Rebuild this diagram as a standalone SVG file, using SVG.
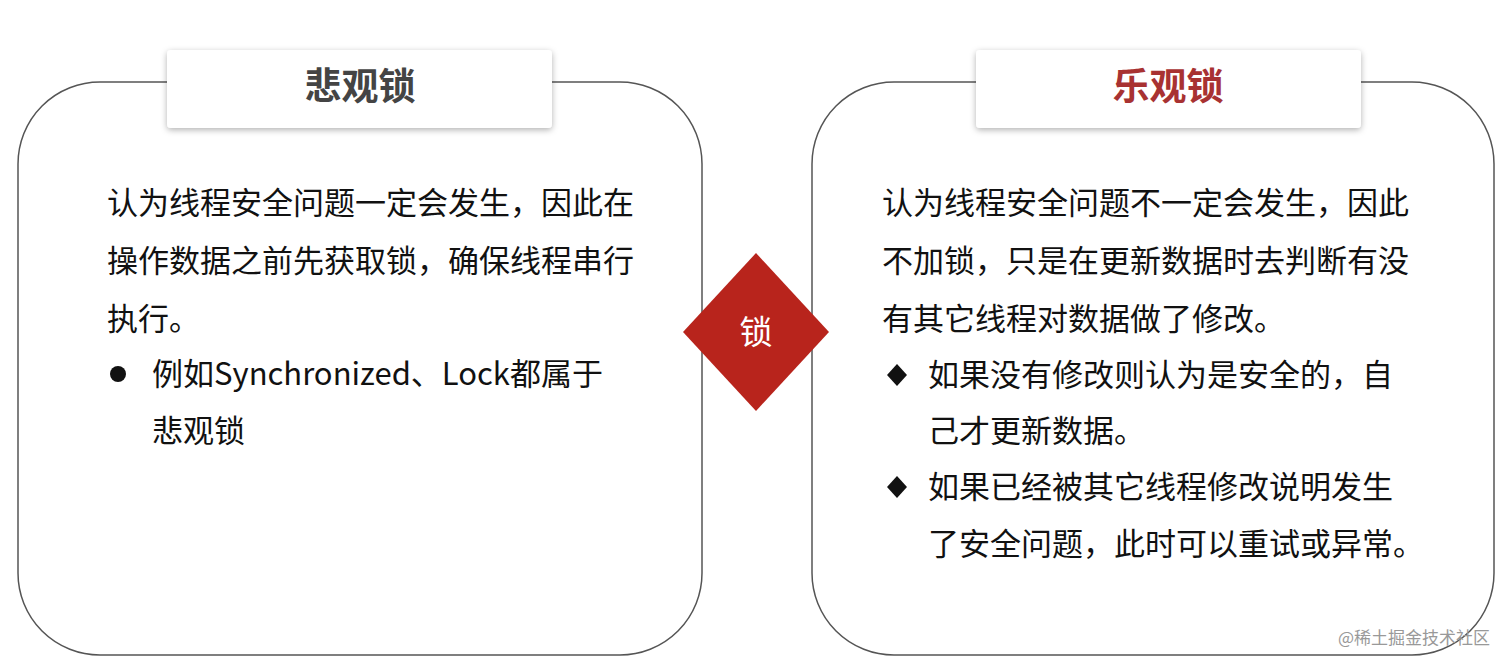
<svg xmlns="http://www.w3.org/2000/svg" width="1512" height="668" viewBox="0 0 1512 668">
<style>
.t{font-family:"Noto Sans CJK SC","Noto Sans",sans-serif;font-size:31px;fill:#111}
.h{font-family:"Noto Sans CJK SC",sans-serif;font-size:37px;font-weight:bold;text-anchor:middle}
.card{fill:#fff;stroke:#555;stroke-width:1.5}
.tb{fill:#fff;filter:url(#sh)}
</style>
<defs><filter id="sh" x="-10%" y="-20%" width="120%" height="150%"><feDropShadow dx="0" dy="2" stdDeviation="3" flood-color="#000" flood-opacity="0.3"/></filter></defs>
<rect width="1512" height="668" fill="#fff"/>
<g id="left">
<rect class="card" x="18" y="82" width="684" height="573" rx="82"/>
<rect class="tb" x="167" y="50" width="385" height="78" rx="4"/>
<text class="h" x="360" y="100" fill="#444">悲观锁</text>
<text class="t" x="107" y="214">认为线程安全问题一定会发生，因此在</text>
<text class="t" x="107" y="272">操作数据之前先获取锁，确保线程串行</text>
<text class="t" x="107" y="330">执行。</text>
<circle cx="118" cy="374" r="8" fill="#111"/>
<text class="t" x="152" y="385">例如Synchronized、Lock都属于</text>
<text class="t" x="152" y="442">悲观锁</text>
</g>
<g id="right">
<rect class="card" x="812" y="82" width="682" height="573" rx="82" stroke="#6b3a3a"/>
<rect class="tb" x="976" y="50" width="385" height="78" rx="4"/>
<text class="h" x="1168" y="100" fill="#a83232">乐观锁</text>
<text class="t" x="882" y="214">认为线程安全问题不一定会发生，因此</text>
<text class="t" x="882" y="272">不加锁，只是在更新数据时去判断有没</text>
<text class="t" x="882" y="330">有其它线程对数据做了修改。</text>
<path d="M897 364 L907 375 L897 386 L887 375 Z" fill="#111"/>
<text class="t" x="928" y="386">如果没有修改则认为是安全的，自</text>
<text class="t" x="928" y="442">己才更新数据。</text>
<path d="M897 476 L907 487 L897 498 L887 487 Z" fill="#111"/>
<text class="t" x="928" y="498">如果已经被其它线程修改说明发生</text>
<text class="t" x="928" y="555">了安全问题，此时可以重试或异常。</text>
</g>
<g id="lock">
<path d="M756 253 L829 332 L756 411 L683 332 Z" fill="#b8241c"/>
<text x="756" y="344" font-family="Noto Sans CJK SC,sans-serif" font-size="33" fill="#fff" text-anchor="middle">锁</text>
</g>
<text x="1490" y="644" font-family="Noto Sans CJK SC,sans-serif" font-size="17" fill="#999" text-anchor="end">@稀土掘金技术社区</text>
</svg>
